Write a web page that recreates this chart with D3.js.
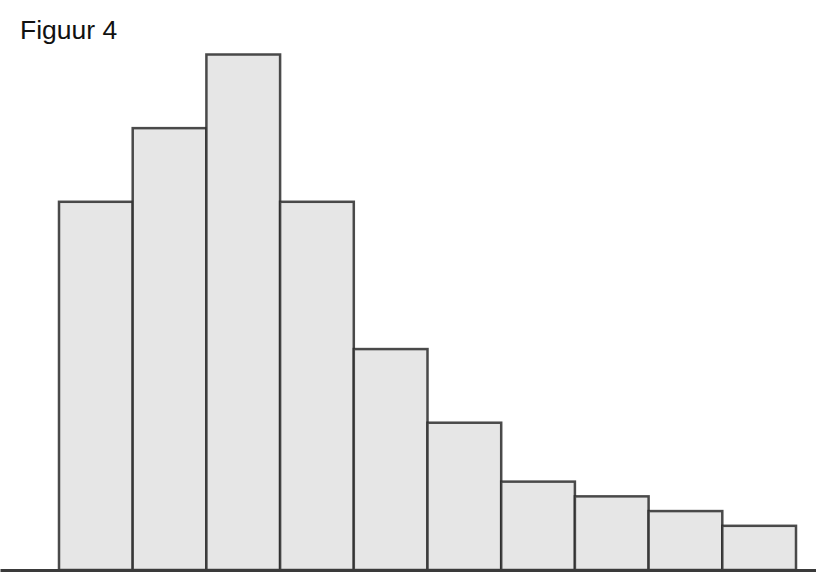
<!DOCTYPE html>
<html>
<head>
<meta charset="utf-8">
<script src="https://cdn.jsdelivr.net/npm/d3@7"></script>
<style>
  html, body { margin: 0; padding: 0; background: #fff; }
  svg { display: block; }
</style>
</head>
<body>
<div id="chart"></div>
<script>
// bins of the histogram and their heights
const categories = ['1', '2', '3', '4', '5', '6', '7', '8', '9', '10'];
const values = [5, 6, 7, 5, 3, 2, 1.2, 1, 0.8, 0.6];
const title = 'Figuur 4';

const width = 816;
const height = 577;

const svg = d3.select('#chart')
    .append('svg')
    .attr('width', width)
    .attr('height', height);

const x = d3.scaleBand()
    .domain(categories)
    .range([59, 796])
    .padding(0);

const y = d3.scaleLinear()
    .domain([0, 7])
    .range([570, 54.5]);

svg.selectAll('rect.bar')
    .data(values)
    .enter()
    .append('rect')
    .attr('class', 'bar')
    .attr('x', (d, i) => x(categories[i]))
    .attr('y', d => y(d))
    .attr('width', x.bandwidth())
    .attr('height', d => y(0) - y(d))
    .attr('fill', '#e6e6e6')
    .attr('stroke', '#2b2b2b')
    .attr('stroke-opacity', 0.85)
    .attr('stroke-width', 2.5);

// baseline across the whole picture
const axisScale = d3.scaleLinear().domain([0, 1]).range([0, width]);
const axis = svg.append('g')
    .attr('transform', `translate(0,${y(0)})`)
    .call(d3.axisBottom(axisScale).ticks(0).tickSizeOuter(0));
axis.select('.domain')
    .attr('stroke', '#3a3a3a')
    .attr('stroke-width', 3);

svg.append('text')
    .attr('x', 20)
    .attr('y', 39)
    .attr('font-family', 'Liberation Sans, Arial, sans-serif')
    .attr('font-size', 26.5)
    .attr('fill', '#111')
    .text(title);
</script>
</body>
</html>
